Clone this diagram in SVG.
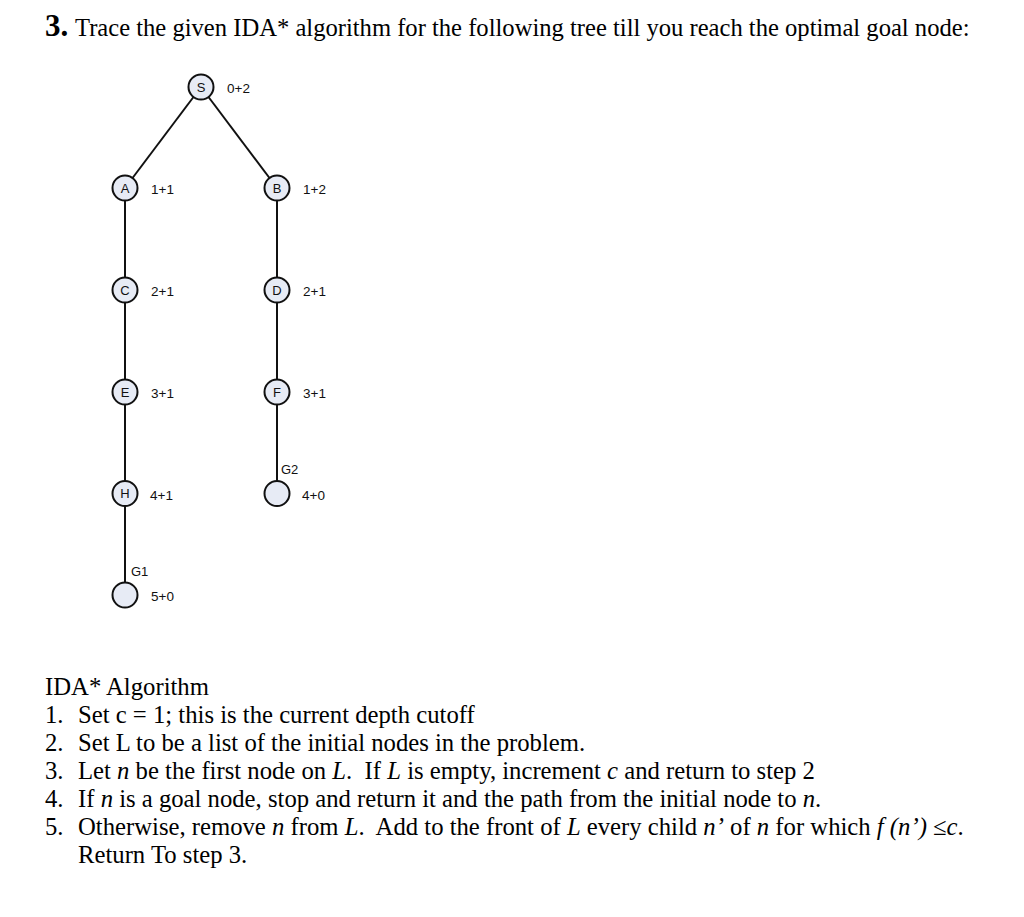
<svg xmlns="http://www.w3.org/2000/svg" width="1024" height="917" viewBox="0 0 1024 917">
<style>
.serif{font-family:"Liberation Serif","Times New Roman",serif;fill:#000}
.t{font-size:24.7px}
.i{font-style:italic}
.node circle{fill:#e7ebf5;stroke:#111;stroke-width:2}
.node text{font-family:"Liberation Sans",Arial,sans-serif;font-size:13px;fill:#111;text-anchor:middle}
.lbl{font-family:"Liberation Sans",Arial,sans-serif;font-size:13.5px;fill:#111}
#edges line{stroke:#111;stroke-width:2}
</style>
<rect width="1024" height="917" fill="#fff"/>
<text class="serif" x="45" y="36"><tspan font-weight="bold" font-size="31">3.</tspan><tspan x="75" font-size="24.6">Trace the given IDA* algorithm for the following tree till you reach the optimal goal node:</tspan></text>

<g id="edges">
<line x1="201" y1="87" x2="125" y2="188"/>
<line x1="201" y1="87" x2="277" y2="188"/>
<line x1="125" y1="188" x2="125" y2="595"/>
<line x1="277" y1="188" x2="277" y2="493"/>
</g>

<g id="node-S" class="node"><circle cx="201" cy="87" r="12.5"/><text x="201" y="91.5">S</text></g>
<text class="lbl" x="227" y="92.5">0+2</text>
<g id="node-A" class="node"><circle cx="125" cy="188" r="12.5"/><text x="125" y="192.5">A</text></g>
<text class="lbl" x="151" y="194">1+1</text>
<g id="node-B" class="node"><circle cx="277" cy="188" r="12.5"/><text x="277" y="192.5">B</text></g>
<text class="lbl" x="303" y="194">1+2</text>
<g id="node-C" class="node"><circle cx="125" cy="290" r="12.5"/><text x="125" y="294.5">C</text></g>
<text class="lbl" x="151" y="296">2+1</text>
<g id="node-D" class="node"><circle cx="277" cy="290" r="12.5"/><text x="277" y="294.5">D</text></g>
<text class="lbl" x="303" y="296">2+1</text>
<g id="node-E" class="node"><circle cx="125" cy="392" r="12.5"/><text x="125" y="396.5">E</text></g>
<text class="lbl" x="151" y="398">3+1</text>
<g id="node-F" class="node"><circle cx="277" cy="392" r="12.5"/><text x="277" y="396.5">F</text></g>
<text class="lbl" x="303" y="398">3+1</text>
<g id="node-H" class="node"><circle cx="125" cy="493.5" r="12.5"/><text x="125" y="498">H</text></g>
<text class="lbl" x="150" y="499.5">4+1</text>
<g id="node-G2" class="node"><circle cx="277" cy="493.5" r="12.5"/><text class="lbl" x="281" y="474" style="text-anchor:start">G2</text></g>
<text class="lbl" x="302" y="499.5">4+0</text>
<g id="node-G1" class="node"><circle cx="125" cy="595" r="12.5"/><text class="lbl" x="131" y="576" style="text-anchor:start">G1</text></g>
<text class="lbl" x="151" y="601">5+0</text>

<g class="serif t">
<text x="45" y="695">IDA* Algorithm</text>
<text x="45" y="723">1.<tspan x="78">Set c = 1; this is the current depth cutoff</tspan></text>
<text x="45" y="751">2.<tspan x="78">Set L to be a list of the initial nodes in the problem.</tspan></text>
<text x="45" y="779">3.<tspan x="78">Let </tspan><tspan class="i">n</tspan> be the first node on <tspan class="i">L</tspan>.&#160; If <tspan class="i">L</tspan> is empty, increment <tspan class="i">c</tspan> and return to step 2</text>
<text x="45" y="807">4.<tspan x="78">If </tspan><tspan class="i">n</tspan> is a goal node, stop and return it and the path from the initial node to <tspan class="i">n</tspan>.</text>
<text x="45" y="835">5.<tspan x="78">Otherwise, remove </tspan><tspan class="i">n</tspan> from <tspan class="i">L</tspan>.&#160; Add to the front of <tspan class="i">L</tspan> every child <tspan class="i">n’</tspan> of <tspan class="i">n</tspan> for which <tspan class="i">f (n’) ≤c</tspan>.</text>
<text x="78" y="863">Return To step 3.</text>
</g>
</svg>
